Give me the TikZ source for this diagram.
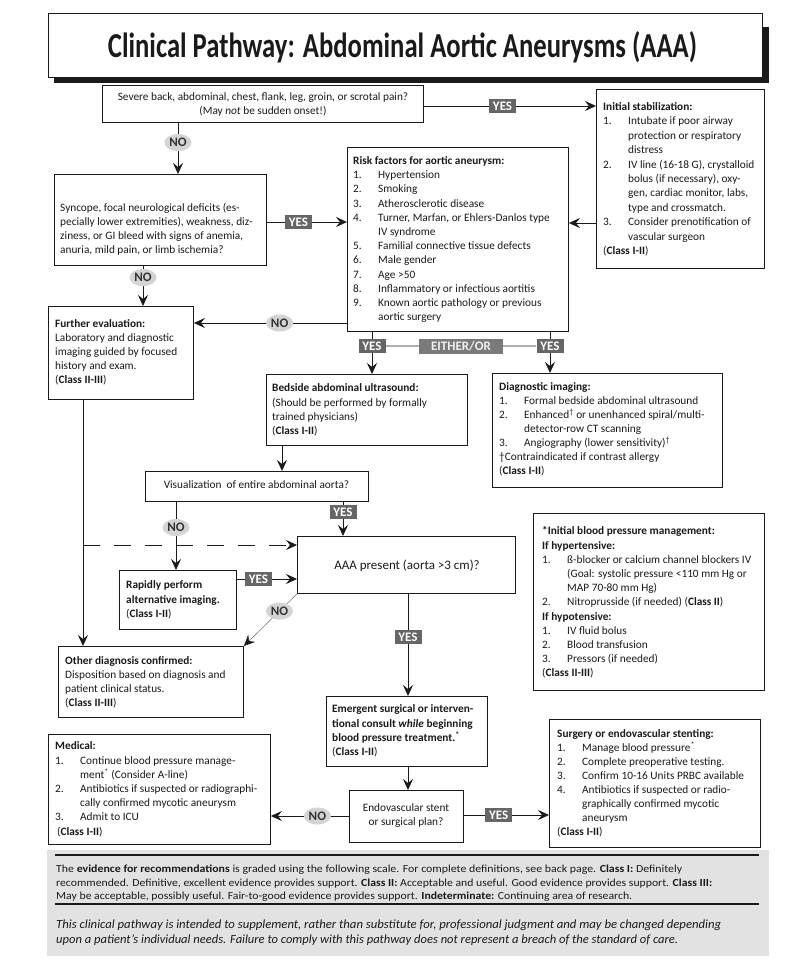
\documentclass[tikz,border=0pt]{standalone}
\usepackage{fontspec}
\usepackage{graphicx}
\setmainfont{Carlito}
\usetikzlibrary{arrows.meta,shapes.geometric}
\definecolor{yesgray}{HTML}{666666}
\definecolor{nogray}{HTML}{D4D4D4}
\definecolor{notext}{HTML}{333333}
\definecolor{eogray}{HTML}{7A7A7A}
\definecolor{footgray}{HTML}{E2E2E2}
\definecolor{ink}{HTML}{1A1A1A}
\newcommand{\fl}{\rule{0pt}{10pt}}
\newcommand{\nm}[1]{\makebox[25pt][l]{#1}}
\newcommand{\ind}{\hspace*{25pt}}
\begin{document}
\begin{tikzpicture}[x=1pt,y=-1pt,
  box/.style={draw=ink, line width=0.9pt, inner sep=0pt, anchor=north west},
  txt/.style={anchor=north west, inner sep=0pt, align=left, text=ink},
  bs/.style={font=\fontsize{11.3}{#1}\selectfont},
  arr/.style={-{Stealth[length=11pt,width=10pt,inset=4pt]}, line width=0.8pt, draw=ink},
  yeslab/.style={fill=yesgray, text=white, font=\bfseries\fontsize{13}{13}\selectfont, inner xsep=1.5pt, inner ysep=0pt, minimum width=27pt, minimum height=14pt},
  nolab/.style={ellipse, fill=nogray, text=notext, font=\bfseries\fontsize{13}{13}\selectfont, inner sep=0pt, minimum width=27pt, minimum height=17pt},
  eolab/.style={fill=eogray, text=white!88!gray, font=\bfseries\fontsize{13}{13}\selectfont, inner sep=0pt, minimum width=84pt, minimum height=15pt}
]
\useasboundingbox (0,0) rectangle (807,975);
\fill[white] (0,0) rectangle (807,975);

% title
\fill[ink] (54,27) rectangle (769,83);
\node[box, fill=white, minimum width=714pt, minimum height=64pt] (title) at (48,13) {};
\node[anchor=base, inner sep=0pt, text=ink] (ttl) at (402.5,57) {\resizebox{589pt}{26pt}{\bfseries Clinical Pathway: Abdominal Aortic Aneurysms (AAA)}};

% boxes
\node[box, minimum width=321pt, minimum height=37pt] (pain) at (102,85) {};
\node[box, minimum width=168pt, minimum height=179pt] (init) at (596,89) {};
\node[box, minimum width=212pt, minimum height=91pt] (syn) at (54,174) {};
\node[box, minimum width=221pt, minimum height=184pt] (risk) at (347,147) {};
\node[box, minimum width=145pt, minimum height=93pt] (fur) at (48,306) {};
\node[box, minimum width=201pt, minimum height=71pt] (bed) at (266,374) {};
\node[box, minimum width=230pt, minimum height=114pt] (dia) at (492,373) {};
\node[box, minimum width=223pt, minimum height=30pt] (vis) at (145,471) {};
\node[box, minimum width=231pt, minimum height=177pt] (bp) at (533,513) {};
\node[box, minimum width=218pt, minimum height=57pt] (aaa) at (297,536) {};
\node[box, minimum width=117pt, minimum height=59pt] (rap) at (119,570) {};
\node[box, minimum width=185pt, minimum height=71pt] (oth) at (58,646) {};
\node[box, minimum width=161pt, minimum height=70pt] (eme) at (326,696) {};
\node[box, minimum width=114pt, minimum height=52pt] (endo) at (349,790) {};
\node[box, minimum width=222pt, minimum height=110pt] (med) at (48,734) {};
\node[box, minimum width=211pt, minimum height=128pt] (sur) at (549,719) {};

% texts
\node[txt, anchor=north, align=center, bs=13.2] (tpain) at (263,90.6)
 {\fl Severe back, abdominal, chest, flank, leg, groin, or scrotal pain?\\(May \textit{not} be sudden onset!)};
\node[txt, bs=14.4] (tinit) at (603,100.3)
 {\fl\textbf{Initial stabilization:}\\
  \nm{1.}Intubate if poor airway\\
  \ind protection or respiratory\\
  \ind distress\\
  \nm{2.}IV line (16-18 G), crystalloid\\
  \ind bolus (if necessary), oxy-\\
  \ind gen, cardiac monitor, labs,\\
  \ind type and crossmatch.\\
  \nm{3.}Consider prenotification of\\
  \ind vascular surgeon\\
  (\textbf{Class I-II})};
\node[txt, bs=13.8] (tsyn) at (60,201.6)
 {\fl Syncope, focal neurological deficits (es-\\
  pecially lower extremities), weakness, diz-\\
  ziness, or GI bleed with signs of anemia,\\
  anuria, mild pain, or limb ischemia?};
\node[txt, bs=14.2] (trisk) at (353,154.3)
 {\fl\textbf{Risk factors for aortic aneurysm:}\\
  \nm{1.}Hypertension\\
  \nm{2.}Smoking\\
  \nm{3.}Atherosclerotic disease\\
  \nm{4.}Turner, Marfan, or Ehlers-Danlos type\\
  \ind IV syndrome\\
  \nm{5.}Familial connective tissue defects\\
  \nm{6.}Male gender\\
  \nm{7.}Age >50\\
  \nm{8.}Inflammatory or infectious aortitis\\
  \nm{9.}Known aortic pathology or previous\\
  \ind aortic surgery};
\node[txt, bs=14] (tfur) at (55,317.6)
 {\fl\textbf{Further evaluation:}\\
  Laboratory and diagnostic\\
  imaging guided by focused\\
  history and exam.\\
  (\textbf{Class II-III})};
\node[txt, bs=14.2] (tbed) at (272,381.6)
 {\fl\textbf{Bedside abdominal ultrasound:}\\
  (Should be performed by formally\\
  trained physicians)\\
  (\textbf{Class I-II})};
\node[txt, bs=14] (tdia) at (499,380.6)
 {\fl\textbf{Diagnostic imaging:}\\
  \nm{1.}Formal bedside abdominal ultrasound\\
  \nm{2.}Enhanced\textsuperscript{†} or unenhanced spiral/multi-\\
  \ind detector-row CT scanning\\
  \nm{3.}Angiography (lower sensitivity)\textsuperscript{†}\\
  †Contraindicated if contrast allergy\\
  (\textbf{Class I-II})};
\node[txt, anchor=base, bs=14] (tvis) at (256.5,488.6) {Visualization\ \ of entire abdominal aorta?};
\node[txt, bs=14.2] (tbp) at (542,524.6)
 {\fl\textbf{*Initial blood pressure management:}\\
  \textbf{If hypertensive:}\\
  \nm{1.}ß-blocker or calcium channel blockers IV\\
  \ind (Goal: systolic pressure <110 mm Hg or\\
  \ind MAP 70-80 mm Hg)\\
  \nm{2.}Nitroprusside (if needed) (\textbf{Class II})\\
  \textbf{If hypotensive:}\\
  \nm{1.}IV fluid bolus\\
  \nm{2.}Blood transfusion\\
  \nm{3.}Pressors (if needed)\\
  (\textbf{Class II-III})};
\node[txt, anchor=base, font=\fontsize{13}{14}\selectfont] (taaa) at (407,569.5) {AAA present (aorta >3 cm)?};
\node[txt, bs=14.5] (trap) at (126,578.6)
 {\fl\textbf{Rapidly perform}\\
  \textbf{alternative imaging.}\\
  (\textbf{Class I-II})};
\node[txt, bs=14] (toth) at (65,654.6)
 {\fl\textbf{Other diagnosis confirmed:}\\
  Disposition based on diagnosis and\\
  patient clinical status.\\
  (\textbf{Class II-III})};
\node[txt, bs=14.3] (teme) at (332,702.6)
 {\fl\textbf{Emergent surgical or interven-}\\
  \textbf{tional consult \textit{while} beginning}\\
  \textbf{blood pressure treatment.\textsuperscript{*}}\\
  (\textbf{Class I-II})};
\node[txt, anchor=north, align=center, bs=14] (tendo) at (406,801.6)
 {\fl Endovascular stent\\or surgical plan?};
\node[txt, bs=14.2] (tmed) at (55,739.6)
 {\fl\textbf{Medical:}\\
  \nm{1.}Continue blood pressure manage-\\
  \ind ment\textsuperscript{*} (Consider A-line)\\
  \nm{2.}Antibiotics if suspected or radiographi-\\
  \ind cally confirmed mycotic aneurysm\\
  \nm{3.}Admit to ICU\\
  \hspace*{2pt}(\textbf{Class I-II})};
\node[txt, bs=14] (tsur) at (557,727.6)
 {\fl\textbf{Surgery or endovascular stenting:}\\
  \nm{1.}Manage blood pressure\textsuperscript{*}\\
  \nm{2.}Complete preoperative testing.\\
  \nm{3.}Confirm 10-16 Units PRBC available\\
  \nm{4.}Antibiotics if suspected or radio-\\
  \ind graphically confirmed mycotic\\
  \ind aneurysm\\
  (\textbf{Class I-II})};

% connectors
\draw[arr] (pain.east |- 0,106) -- node[yeslab,pos=0.457] (y1) {YES} (init.west |- 0,106);
\draw[arr] (init.west |- 0,223) -- (risk.east |- 0,223);
\draw[arr] (pain.south -| 178,0) -- node[nolab,pos=0.385] (n1) {NO} (syn.north -| 178,0);
\draw[arr] (syn.east |- 0,222) -- node[yeslab,pos=0.395] (y2) {YES} (risk.west |- 0,222);
\draw[arr] (risk.west |- 0,323) -- node[nolab,pos=0.44] (n2) {NO} (fur.east |- 0,323);
\draw[arr] (syn.south -| 143,0) -- node[nolab,pos=0.29] (n3) {NO} (fur.north -| 143,0);
\draw[arr] (risk.south -| 372,0) -- node[yeslab,pos=0.337] (y3) {YES} (bed.north -| 372,0);
\draw[arr] (risk.south -| 550,0) -- node[yeslab,pos=0.345] (y4) {YES} (dia.north -| 550,0);
\draw[line width=0.8pt, draw=ink] (y3.east) -- node[eolab] (eo) {EITHER/OR} (y4.west);
\draw[arr] (bed.south -| 282,0) -- (vis.north -| 282,0);
\draw[arr] (vis.south -| 176,0) -- node[nolab,pos=0.377] (n4) {NO} (rap.north -| 176,0);
\draw[arr] (vis.south -| 343,0) -- node[yeslab,pos=0.3] (y5) {YES} (aaa.north -| 343,0);
\draw[arr] (fur.south -| 83,0) -- (oth.north -| 83,0);
\coordinate (dj) at (83,545);
\draw[arr, dash pattern=on 17pt off 14pt] (dj) -- (aaa.west |- dj);
\draw[arr] (rap.east |- 0,579) -- node[yeslab,pos=0.36] (y6) {YES} (aaa.west |- 0,579);
\draw[-{Stealth[length=11pt,width=10pt,inset=4pt,ink]}, line width=0.6pt, draw=gray] (aaa.south west) -- node[nolab,pos=0.33] (n5) {NO} (oth.north east);
\draw[arr] (aaa.south -| 408,0) -- node[yeslab,pos=0.42] (y7) {YES} (eme.north -| 408,0);
\draw[arr] (eme.south -| 408,0) -- (endo.north -| 408,0);
\draw[arr] (endo.west |- 0,816) -- node[nolab,pos=0.405] (n6) {NO} (med.east |- 0,816);
\draw[arr] (endo.east |- 0,815) -- node[yeslab,pos=0.41] (y8) {YES} (sur.west |- 0,815);

% footer
\fill[footgray] (47,850) rectangle (769,956);
\draw[line width=1.2pt, draw=ink] (55,855) -- (759,855);
\draw[line width=1.2pt, draw=ink] (55,904) -- (759,904);
\node[anchor=base west, inner sep=0pt, text=ink] (f1) at (56,872) {\resizebox{626pt}{\height}{\fontsize{10.8}{12}\selectfont The \textbf{evidence for recommendations} is graded using the following scale. For complete definitions, see back page. \textbf{Class I:} Definitely}};
\node[anchor=base west, inner sep=0pt, text=ink] (f2) at (56,886) {\resizebox{656pt}{\height}{\fontsize{10.8}{12}\selectfont recommended. Definitive, excellent evidence provides support. \textbf{Class II:} Acceptable and useful. Good evidence provides support. \textbf{Class III:}}};
\node[anchor=base west, inner sep=0pt, text=ink] (f3) at (56,899.5) {\resizebox{576pt}{\height}{\fontsize{10.8}{12}\selectfont May be acceptable, possibly useful. Fair-to-good evidence provides support. \textbf{Indeterminate:} Continuing area of research.}};
\node[anchor=base west, inner sep=0pt, text=ink] (f4) at (56,928.5) {\resizebox{665pt}{\height}{\fontsize{12.5}{14}\selectfont\itshape This clinical pathway is intended to supplement, rather than substitute for, professional judgment and may be changed depending}};
\node[anchor=base west, inner sep=0pt, text=ink] (f5) at (56,943) {\resizebox{622pt}{\height}{\fontsize{12.5}{14}\selectfont\itshape upon a patient’s individual needs. Failure to comply with this pathway does not represent a breach of the standard of care.}};
\end{tikzpicture}
\end{document}
